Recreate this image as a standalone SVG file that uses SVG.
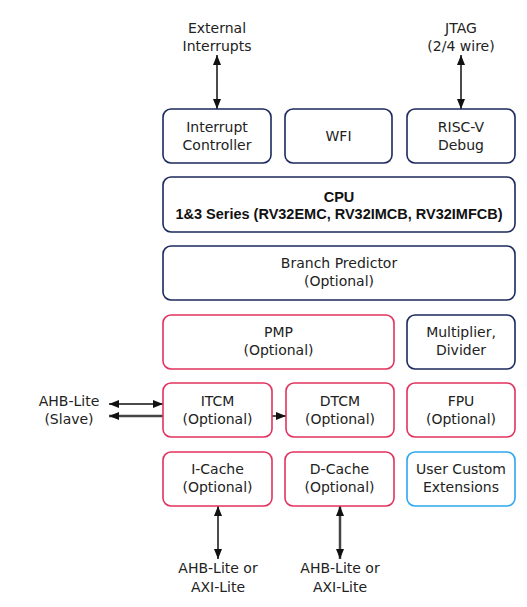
<svg xmlns="http://www.w3.org/2000/svg" width="527" height="607" viewBox="0 0 527 607">
<style>
.box{fill:#fff;stroke-width:1.6}
.navy{stroke:#1c2a5e}
.red{stroke:#e2325e}
.blue{stroke:#2ea6f0}
text{font-family:"DejaVu Sans","Liberation Sans",sans-serif;font-size:14px;fill:#222;text-anchor:middle}
.b{font-family:"Liberation Sans",Arial,sans-serif;font-weight:bold;font-size:14.5px;fill:#111}
.ln{stroke:#111;stroke-width:1.5;fill:none}
.ln2{stroke:#444;stroke-width:2.5;fill:none}
</style>
<defs>
<marker id="ah" viewBox="0 0 10 8" refX="10" refY="4" markerWidth="10" markerHeight="8" markerUnits="userSpaceOnUse" orient="auto-start-reverse">
<path d="M0,0 L10,4 L0,8 z" fill="#111"/>
</marker>
</defs>
<g id="connectors">
<line class="ln" x1="217" y1="55" x2="217" y2="109" marker-start="url(#ah)" marker-end="url(#ah)"/>
<line class="ln" x1="461" y1="55" x2="461" y2="109" marker-start="url(#ah)" marker-end="url(#ah)"/>
<line class="ln" x1="109" y1="404" x2="163" y2="404" marker-start="url(#ah)" marker-end="url(#ah)"/>
<line class="ln2" x1="163" y1="416" x2="109" y2="416" marker-end="url(#ah)"/>
<line class="ln" x1="272" y1="416" x2="286" y2="416" marker-end="url(#ah)"/>
<line class="ln" x1="218" y1="506" x2="218" y2="559" marker-start="url(#ah)" marker-end="url(#ah)"/>
<line class="ln2" x1="340" y1="506" x2="340" y2="559" marker-start="url(#ah)" marker-end="url(#ah)"/>
</g>
<g id="labels">
<text x="217" y="33">External</text>
<text x="217" y="51">Interrupts</text>
<text x="461" y="33">JTAG</text>
<text x="461" y="51">(2/4 wire)</text>
<text x="69" y="406">AHB-Lite</text>
<text x="69" y="424">(Slave)</text>
<text x="218" y="573">AHB-Lite or</text>
<text x="218" y="592">AXI-Lite</text>
<text x="340" y="573">AHB-Lite or</text>
<text x="340" y="592">AXI-Lite</text>
</g>
<g id="interrupt-controller">
<rect class="box navy" x="163" y="109" width="108" height="54" rx="8"/>
<text x="217" y="132">Interrupt</text>
<text x="217" y="150">Controller</text>
</g>
<g id="wfi">
<rect class="box navy" x="285" y="109" width="107" height="54" rx="8"/>
<text x="338.5" y="141">WFI</text>
</g>
<g id="riscv-debug">
<rect class="box navy" x="407" y="109" width="108" height="54" rx="8"/>
<text x="461" y="132">RISC-V</text>
<text x="461" y="150">Debug</text>
</g>
<g id="cpu">
<rect class="box navy" x="163" y="177" width="352" height="55" rx="8"/>
<text class="b" x="339" y="202">CPU</text>
<text class="b" x="339" y="219">1&amp;3 Series (RV32EMC, RV32IMCB, RV32IMFCB)</text>
</g>
<g id="branch-predictor">
<rect class="box navy" x="163" y="246" width="352" height="54" rx="8"/>
<text x="339" y="268">Branch Predictor</text>
<text x="339" y="286">(Optional)</text>
</g>
<g id="pmp">
<rect class="box red" x="163" y="315" width="231" height="54" rx="8"/>
<text x="278.5" y="337">PMP</text>
<text x="278.5" y="355">(Optional)</text>
</g>
<g id="multiplier">
<rect class="box navy" x="407" y="315" width="108" height="54" rx="8"/>
<text x="461" y="337">Multiplier,</text>
<text x="461" y="355">Divider</text>
</g>
<g id="itcm">
<rect class="box red" x="163" y="383" width="109" height="54" rx="8"/>
<text x="217.5" y="406">ITCM</text>
<text x="217.5" y="424">(Optional)</text>
</g>
<g id="dtcm">
<rect class="box red" x="286" y="383" width="108" height="54" rx="8"/>
<text x="340" y="406">DTCM</text>
<text x="340" y="424">(Optional)</text>
</g>
<g id="fpu">
<rect class="box red" x="407" y="383" width="108" height="54" rx="8"/>
<text x="461" y="406">FPU</text>
<text x="461" y="424">(Optional)</text>
</g>
<g id="icache">
<rect class="box red" x="163" y="452" width="109" height="54" rx="8"/>
<text x="217.5" y="474">I-Cache</text>
<text x="217.5" y="492">(Optional)</text>
</g>
<g id="dcache">
<rect class="box red" x="285" y="452" width="109" height="54" rx="8"/>
<text x="339.5" y="474">D-Cache</text>
<text x="339.5" y="492">(Optional)</text>
</g>
<g id="user-custom">
<rect class="box blue" x="407" y="452" width="108" height="54" rx="8"/>
<text x="461" y="474">User Custom</text>
<text x="461" y="492">Extensions</text>
</g>
</svg>
